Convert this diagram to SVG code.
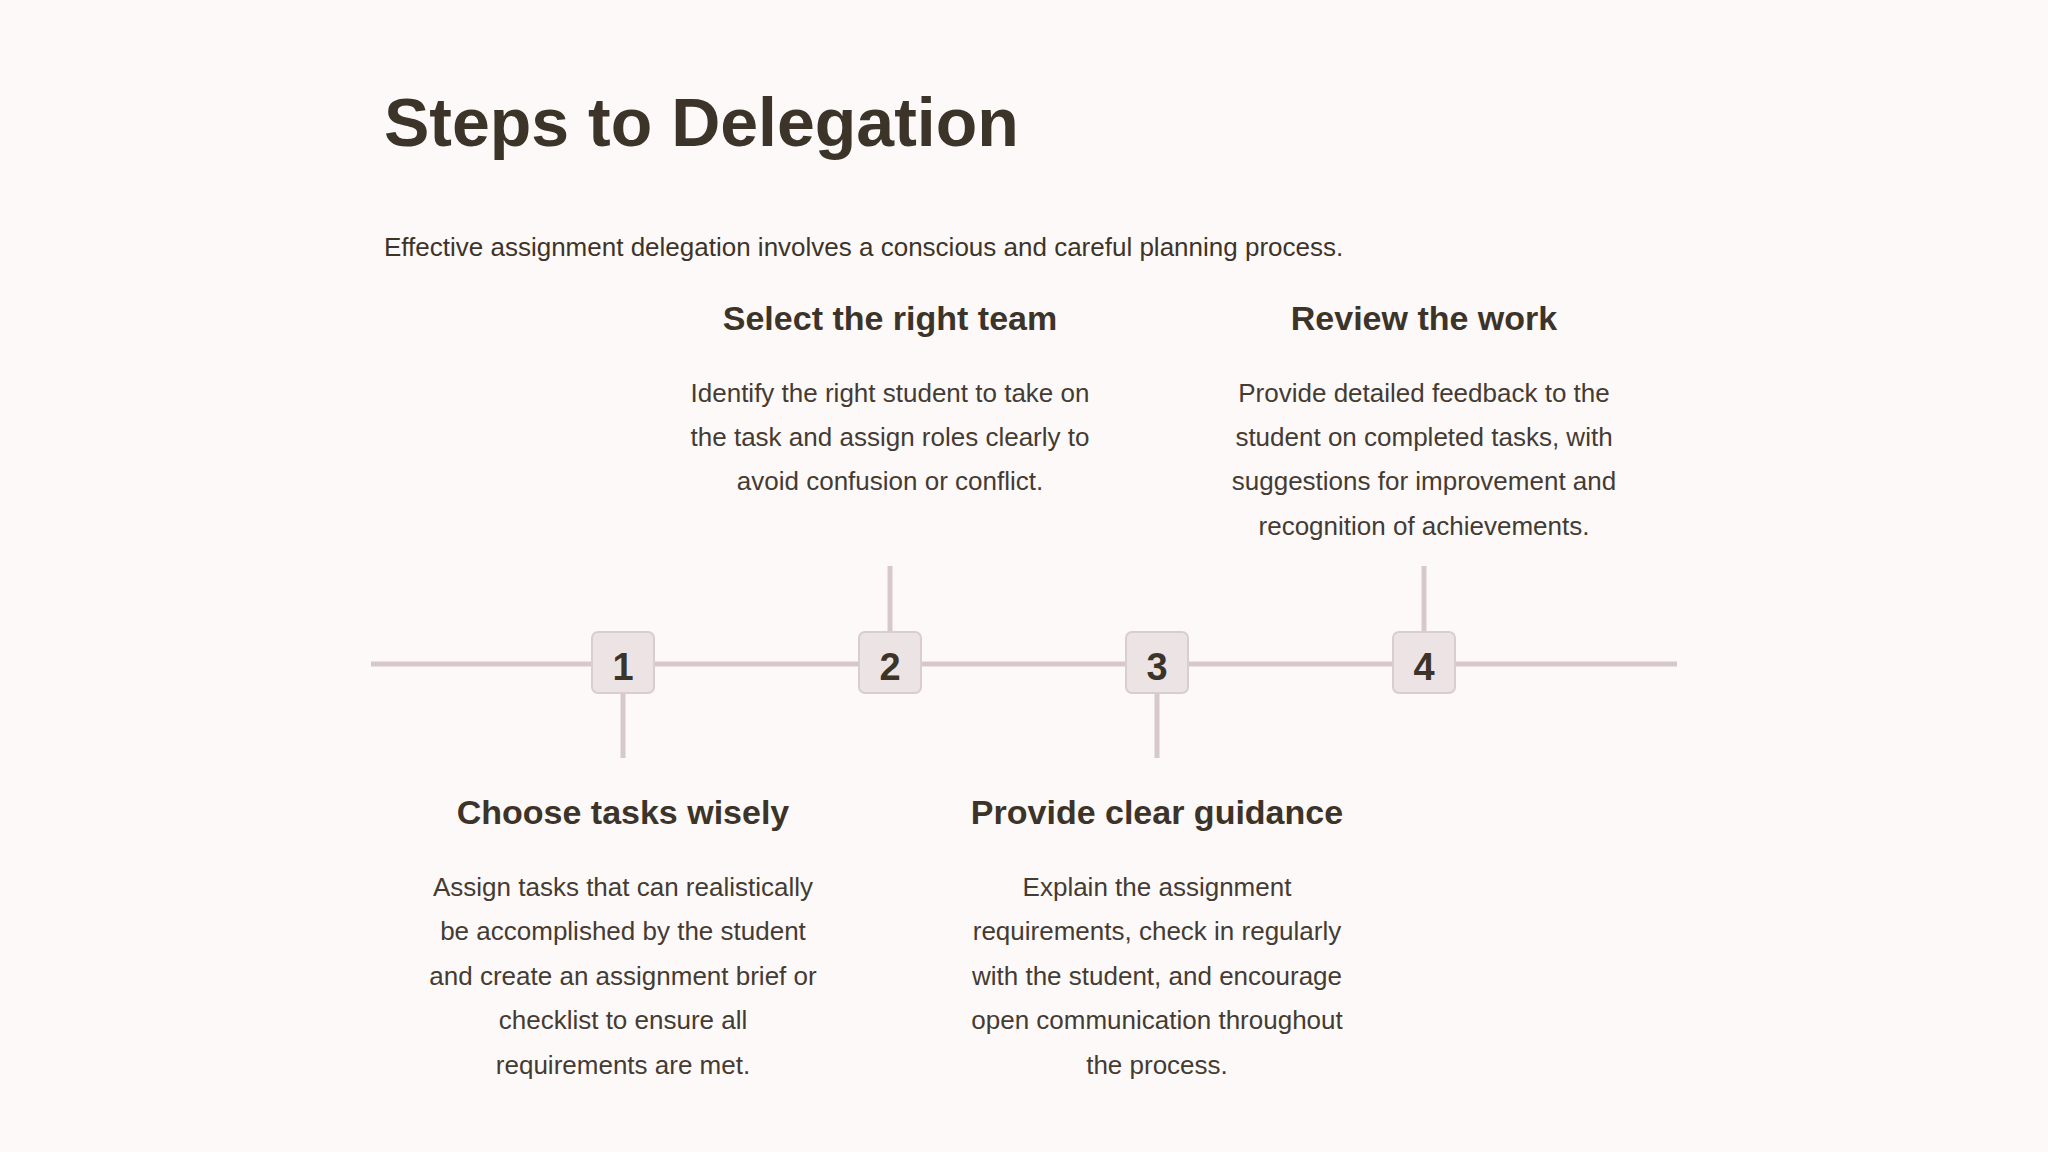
<svg xmlns="http://www.w3.org/2000/svg" width="2048" height="1152" viewBox="0 0 2048 1152">
<style>
text{font-family:"Liberation Sans",Arial,sans-serif;fill:#3d3429}
.h{font-size:34px;font-weight:bold;text-anchor:middle}
.b{font-size:26px;text-anchor:middle;fill:#443b33}
.n{font-size:38px;font-weight:bold;text-anchor:middle}
.ln{stroke:#d7c9c9;stroke-width:5;fill:none}
.box{fill:#ece4e4;stroke:#dacdcd;stroke-width:2}
</style>
<rect width="2048" height="1152" fill="#fdf9f9"/>
<text x="384" y="146" font-size="68" font-weight="bold">Steps to Delegation</text>
<text x="384" y="256" font-size="26" fill="#443b33">Effective assignment delegation involves a conscious and careful planning process.</text>
<g id="connectors">
<line class="ln" x1="371" y1="664" x2="1677" y2="664"/>
<line class="ln" x1="623" y1="693" x2="623" y2="758"/>
<line class="ln" x1="890" y1="566" x2="890" y2="632"/>
<line class="ln" x1="1157" y1="693" x2="1157" y2="758"/>
<line class="ln" x1="1424" y1="566" x2="1424" y2="632"/>
</g>
<g id="step1">
<rect class="box" x="592" y="632" width="62" height="61" rx="6"/>
<text class="n" x="623" y="680">1</text>
<text class="h" x="623" y="824">Choose tasks wisely</text>
<text class="b" x="623" y="896">Assign tasks that can realistically</text>
<text class="b" x="623" y="940">be accomplished by the student</text>
<text class="b" x="623" y="985">and create an assignment brief or</text>
<text class="b" x="623" y="1029">checklist to ensure all</text>
<text class="b" x="623" y="1074">requirements are met.</text>
</g>
<g id="step2">
<rect class="box" x="859" y="632" width="62" height="61" rx="6"/>
<text class="n" x="890" y="680">2</text>
<text class="h" x="890" y="330">Select the right team</text>
<text class="b" x="890" y="402">Identify the right student to take on</text>
<text class="b" x="890" y="446">the task and assign roles clearly to</text>
<text class="b" x="890" y="490">avoid confusion or conflict.</text>
</g>
<g id="step3">
<rect class="box" x="1126" y="632" width="62" height="61" rx="6"/>
<text class="n" x="1157" y="680">3</text>
<text class="h" x="1157" y="824">Provide clear guidance</text>
<text class="b" x="1157" y="896">Explain the assignment</text>
<text class="b" x="1157" y="940">requirements, check in regularly</text>
<text class="b" x="1157" y="985">with the student, and encourage</text>
<text class="b" x="1157" y="1029">open communication throughout</text>
<text class="b" x="1157" y="1074">the process.</text>
</g>
<g id="step4">
<rect class="box" x="1393" y="632" width="62" height="61" rx="6"/>
<text class="n" x="1424" y="680">4</text>
<text class="h" x="1424" y="330">Review the work</text>
<text class="b" x="1424" y="402">Provide detailed feedback to the</text>
<text class="b" x="1424" y="446">student on completed tasks, with</text>
<text class="b" x="1424" y="490">suggestions for improvement and</text>
<text class="b" x="1424" y="535">recognition of achievements.</text>
</g>
</svg>
